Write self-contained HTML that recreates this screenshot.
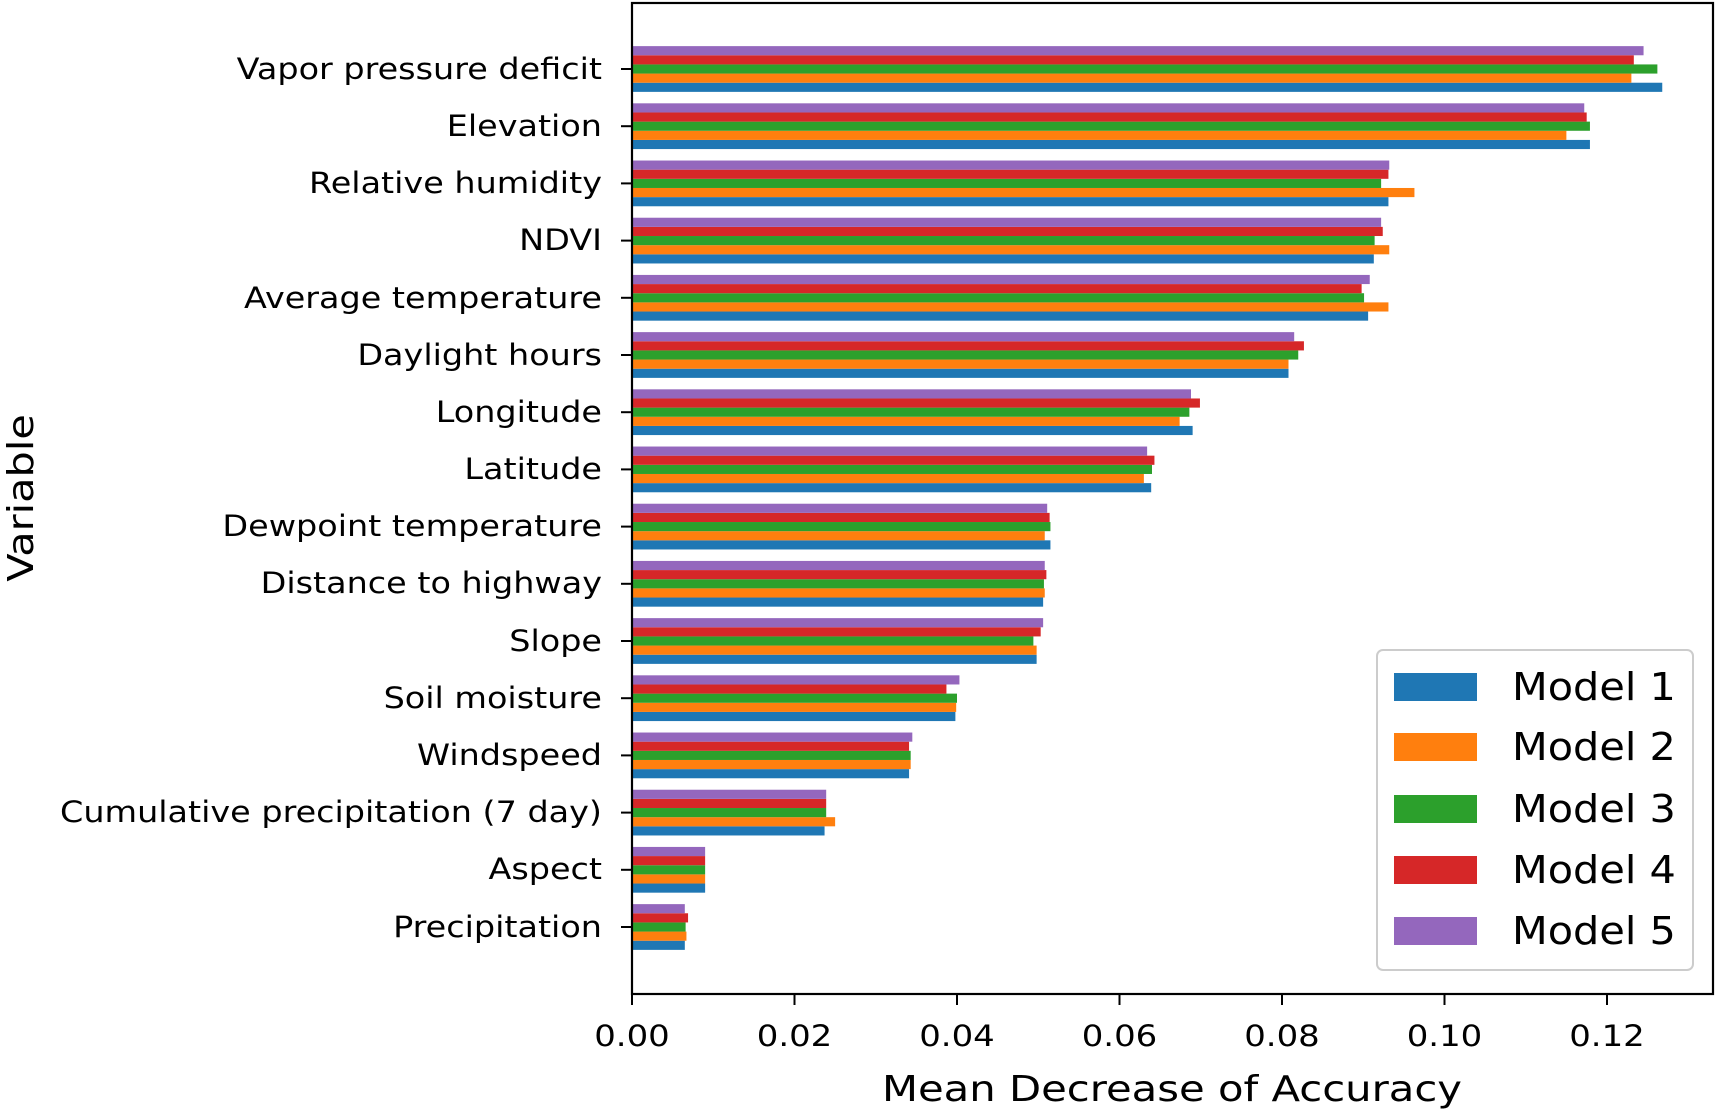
<!DOCTYPE html>
<html><head><meta charset="utf-8"><style>
body{margin:0;background:#fff}
svg{display:block;font-family:"DejaVu Sans","Liberation Sans",sans-serif}
</style></head><body>
<svg id="s" width="1718" height="1113" xmlns="http://www.w3.org/2000/svg">
<rect x="0" y="0" width="1718" height="1113" fill="#fff"/>
<g id="bars"></g>
<rect x="632" y="3" width="1081" height="991" fill="none" stroke="#000" stroke-width="2.2"/>
<g font-size="29" text-anchor="end" fill="#000" transform="translate(602,0) scale(1.153,1) translate(-602,0)">
<text x="602" y="79">Vapor pressure deficit</text>
<text x="602" y="136">Elevation</text>
<text x="602" y="193">Relative humidity</text>
<text x="602" y="250">NDVI</text>
<text x="602" y="308">Average temperature</text>
<text x="602" y="365">Daylight hours</text>
<text x="602" y="422">Longitude</text>
<text x="602" y="479">Latitude</text>
<text x="602" y="536">Dewpoint temperature</text>
<text x="602" y="593">Distance to highway</text>
<text x="602" y="651">Slope</text>
<text x="602" y="708">Soil moisture</text>
<text x="602" y="765">Windspeed</text>
<text x="602" y="822">Cumulative precipitation (7 day)</text>
<text x="602" y="879">Aspect</text>
<text x="602" y="937">Precipitation</text>
</g>
<g font-size="29" text-anchor="middle" fill="#000">
<text class="sx" x="632" y="1046">0.00</text>
<text class="sx" x="794.5" y="1046">0.02</text>
<text class="sx" x="957" y="1046">0.04</text>
<text class="sx" x="1119.5" y="1046">0.06</text>
<text class="sx" x="1282" y="1046">0.08</text>
<text class="sx" x="1444.5" y="1046">0.10</text>
<text class="sx" x="1607" y="1046">0.12</text>
<text x="1172" y="1101" font-size="36" transform="translate(1172,0) scale(1.16,1) translate(-1172,0)">Mean Decrease of Accuracy</text>
<text transform="translate(33,498) rotate(-90) scale(1.15,1)" font-size="36">Variable</text>
</g>
<g id="ticks" stroke="#000" stroke-width="2"></g>
<rect x="1377" y="650" width="316" height="320" rx="6" fill="#fff" stroke="#ccc" stroke-width="2"/>
<g font-size="38" fill="#000">
<rect x="1394" y="673" width="83" height="28" fill="#1f77b4"/>
<rect x="1394" y="733" width="83" height="28" fill="#ff7f0e"/>
<rect x="1394" y="795" width="83" height="28" fill="#2ca02c"/>
<rect x="1394" y="856" width="83" height="28" fill="#d62728"/>
<rect x="1394" y="917" width="83" height="28" fill="#9467bd"/>
<g transform="translate(1512,0) scale(1.09,1) translate(-1512,0)">
<text x="1512" y="700">Model 1</text>
<text x="1512" y="760">Model 2</text>
<text x="1512" y="822">Model 3</text>
<text x="1512" y="883">Model 4</text>
<text x="1512" y="944">Model 5</text>
</g>
</g>
</svg>
<script>
var d=[[.1268,.123,.1262,.1233,.1245],[.1179,.115,.1179,.1175,.1172],[.0931,.0963,.0922,.0931,.0932],[.0913,.0932,.0914,.0924,.0922],[.0906,.0931,.0901,.0898,.0908],[.0808,.0808,.082,.0827,.0815],[.069,.0674,.0686,.0699,.0688],[.0639,.063,.064,.0643,.0634],[.0515,.0508,.0515,.0514,.0511],[.0506,.0508,.0507,.051,.0508],[.0498,.0498,.0494,.0503,.0506],[.0398,.0399,.04,.0387,.0403],[.0341,.0343,.0343,.0341,.0345],[.0237,.025,.0239,.0239,.0239],[.009,.009,.009,.009,.009],[.0065,.0067,.0066,.0069,.0065]];
var c=["#1f77b4","#ff7f0e","#2ca02c","#d62728","#9467bd"];
var ns="http://www.w3.org/2000/svg",g=document.getElementById("bars"),t=document.getElementById("ticks");
function el(p,n,a){var e=document.createElementNS(ns,n);for(var k in a)e.setAttribute(k,a[k]);p.appendChild(e);}
for(var i=0;i<16;i++){var yc=69+i*57.2;
 for(var k=0;k<5;k++){var cy=yc+(2-k)*9.15;el(g,"rect",{x:632,y:cy-4.575,width:d[i][k]*8125,height:9.15,fill:c[k]});}
 el(t,"line",{x1:621,x2:632,y1:yc,y2:yc});}
for(var j=0;j<7;j++){var x=632+j*162.5;el(t,"line",{x1:x,x2:x,y1:994,y2:1005});}
var sx=document.querySelectorAll(".sx");
for(var q=0;q<sx.length;q++){var xx=sx[q].getAttribute("x");sx[q].setAttribute("transform","translate("+xx+",0) scale(1.17,1) translate(-"+xx+",0)");}
</script>
</body></html>
